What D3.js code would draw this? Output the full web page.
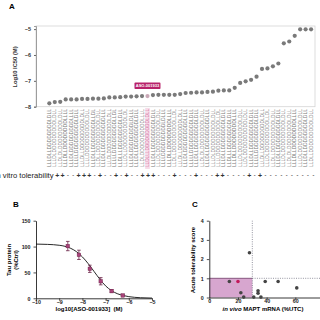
<!DOCTYPE html>
<html><head><meta charset="utf-8">
<script src="https://cdn.jsdelivr.net/npm/d3@7"></script>
<style>body{margin:0;background:#fff}svg{display:block;font-family:"Liberation Sans",Arial,sans-serif}</style>
</head><body><svg id="c" width="320" height="320"></svg>
<script>
// ---------- Panel A data ----------
const asoIC50 = [-7.87,-7.82,-7.81,-7.72,-7.72,-7.72,-7.70,-7.70,-7.69,-7.69,-7.68,-7.64,-7.64,-7.63,-7.61,-7.61,-7.60,-7.59,-7.59,
  -7.55,-7.54,-7.54,-7.54,-7.54,-7.51,-7.47,-7.46,-7.45,-7.45,-7.43,-7.42,-7.38,-7.37,-7.37,-7.27,-7.08,-7.02,-6.96,-6.84,
  -6.54,-6.52,-6.44,-6.33,-5.55,-5.48,-5.26,-5.01,-5.01,-5.01];
const asoChem = [
 "LLLDLLDDDDDDDDLDLL","LLLDLDDDDDDDDDLDLL","LLDLDLDDDDDDDDLDLL","LLLDLLDDDDDDDDLLLL","LLLDLDDDDDDDDDLLLL",
 "LLLLLDDDDDDDDDLDLL","LLLDLLDDDDDDDDDLDLL","LLLLDDDDDDDDDDLDLL","LLLDLLDDDDDDDDLLDL","LLDLLDDDDDDDDDLDLL",
 "LLLDLLDDDDDDDDDLLL","LLLDLDDDDDDDDDDLDLL","LLLLLDDDDDDDDDLLDL","LLDLLLDDDDDDDDLDLL","LLLDLLDDDDDDDDDLDL",
 "LLLDLDDDDDDDDLDLLL","LLLDLLDDDDDDDDLDLL","LLDLDDDDDDDDDDLLLL","LLDLLLDDDDDDDDDLDLL","LLLDLLDDDDDDDDLDLL",
 "LLLDLDDDDDDDDDLDLL","LLLLDDDDDDDDDLDLLL","LLLDLLDDDDDDDDLLLL","LLDLLDDDDDDDDDLLDL","LLLDLLDDDDDDDDDLDLL",
 "LLLDLDDDDDDDDDLLLL","LLLLLDDDDDDDDDLDLL","LLLDLLDDDDDDDDLDLL","LLDLDLDDDDDDDDLDLL","LLLDLLDDDDDDDDDLLL",
 "LLLDLDDDDDDDDDLDLL","LLLLDDDDDDDDDDLLDL","LLLDLLDDDDDDDDLDLL","LLDLLLDDDDDDDDLDLL","LLLDLLDDDDDDDDLLLL",
 "LLLDLDDDDDDDDDLDLL","LLDLDDDDDDDDDDLDLL","LLLDLLDDDDDDDDLDLL","LLLLLDDDDDDDDDLDLL","LLLDLLDDDDDDDDDLDLL",
 "LLLDLDDDDDDDDDLLDL","LLDLLDDDDDDDDDLDLL","LLLDLLDDDDDDDDLDLL","LLLDLDDDDDDDDDLDLL","LLDLDLDDDDDDDDLDLL",
 "LLLDLLDDDDDDDDLLLL","LLLDLDDDDDDDDDLDLL","LLLDLLDDDDDDDDLDLL","LLDLLDDDDDDDDDLDLL"];
const tolerability = ["+","+","-","-","+","+","+","-","+","-","-","+","-","+","-","-","+","+","+","-","-",
 "-","+","-","-","-","+","-","-","-","+","+","-","-","-","-","+","-","+","-","-","-","-","-","-","-","-","-","-"];
const highlightIndex = 18;
const highlightLabel = "ASO-001933";
const aTicks = [-5,-6,-7,-8];

// ---------- Panel B data ----------
const doseLog = [-8.63,-8.15,-7.68,-7.21,-6.74,-6.26];
const tauMean = [101,84,57,33,14,5.5];
const tauErr  = [9,9,7,7,3,2];
const fitX = [-10,-9.5,-9,-8.75,-8.5,-8.25,-8,-7.75,-7.5,-7.25,-7,-6.75,-6.5,-6.25,-6,-5.5,-5];
const fitY = [104.8,104.2,102.5,100.5,96.5,90,80,67,52,37,24,15,9,5.5,3.2,1.1,0.4];
const bXTicks = [-10,-9,-8,-7,-6,-5];
const bYTicks = [0,50,100,150];

// ---------- Panel C data ----------
const mrna  = [14,20,22,24,28,31,34,34,36,39,48,61];
const score = [0.83,0.83,0.25,0.02,2.33,0.02,0.35,0.22,0.02,0.83,0.83,0.5];
const cHighlight = [false,true,false,false,false,false,false,false,false,false,false,false];
const cXTicks = [0,20,40,60];
const cYTicks = [0,1,2,3,4];
const mrnaCut = 30, scoreCut = 1;

const svg = d3.select("#c");
const bold = "bold";

// ===== Panel A =====
svg.append("text").attr("x",9).attr("y",9).attr("font-size",8).attr("font-weight",bold).text("A");
const ax = d3.scaleBand().domain(d3.range(asoIC50.length)).range([46.6,313.8]).paddingInner(0);
const ay = d3.scaleLinear().domain([-8,-4.88]).range([106.7,26]);
const gA = svg.append("g");
gA.append("rect").attr("x",36).attr("y",26).attr("width",279).attr("height",80.7)
  .attr("fill","none").attr("stroke","#d4d4d4").attr("stroke-width",0.8);
const aAxis = gA.append("g").attr("transform","translate(36,0)")
  .call(d3.axisLeft(ay).tickValues(aTicks).tickSize(2).tickFormat(d3.format("d")));
aAxis.select(".domain").attr("stroke","#888").attr("stroke-width",0.8);
aAxis.selectAll(".tick line").attr("stroke","#666");
aAxis.selectAll("text").attr("font-size",5.5).attr("font-weight",bold).attr("fill","#333").attr("font-family","Liberation Sans");
gA.append("text").attr("transform","translate(17,67) rotate(-90)").attr("text-anchor","middle")
  .attr("font-size",5.8).attr("font-weight",bold).attr("fill","#333").text("Log10 IC50 (M)");
// highlight band
gA.append("rect").attr("x",ax(highlightIndex)+ax.bandwidth()/2-2.3).attr("y",108).attr("width",4.6).attr("height",61)
  .attr("fill","#f6dbe8");
gA.selectAll("text.lab").data(asoChem).join("text").attr("class","lab")
  .attr("transform",(d,i)=>`translate(${ax(i)+ax.bandwidth()/2+1.6},109) rotate(-90)`)
  .attr("text-anchor","end").attr("font-size",4.6).attr("fill",(d,i)=>i===highlightIndex?"#d36fa0":"#777")
  .attr("textLength",58).attr("lengthAdjust","spacingAndGlyphs").text(d=>d);
gA.selectAll("circle.pt").data(asoIC50).join("circle").attr("class","pt")
  .attr("cx",(d,i)=>ax(i)+ax.bandwidth()/2).attr("cy",d=>ay(d)).attr("r",2.1)
  .attr("fill",(d,i)=>i===highlightIndex?"#c9a8b6":"#7a7a7a");
const hx = ax(highlightIndex)+ax.bandwidth()/2, hy = ay(asoIC50[highlightIndex]);
gA.append("rect").attr("x",hx-13).attr("y",hy-13.5).attr("width",26).attr("height",6.5).attr("rx",0.8)
  .attr("fill","#b8226a");
gA.append("text").attr("x",hx).attr("y",hy-8.6).attr("text-anchor","middle").attr("font-size",4).attr("font-weight",bold)
  .attr("fill","#fff").text(highlightLabel);
// tolerability row
const tx = d3.scaleBand().domain(d3.range(tolerability.length)).range([54.6,316]);
gA.append("text").attr("x",53.5).attr("y",177.5).attr("text-anchor","end").attr("font-size",7.6).attr("fill","#222")
  .text("In vitro tolerability");
gA.selectAll("text.tol").data(tolerability).join("text").attr("class","tol")
  .attr("x",(d,i)=>tx(i)+tx.bandwidth()/2).attr("y",d=>d==="+"?177.6:176.6).attr("text-anchor","middle")
  .attr("font-size",d=>d==="+"?7:5.5).attr("font-weight",bold).attr("fill",d=>d==="+"?"#333":"#555").text(d=>d);

// ===== Panel B =====
svg.append("text").attr("x",13).attr("y",207).attr("font-size",8).attr("font-weight",bold).text("B");
const bx = d3.scaleLinear().domain([-10,-5]).range([36,152]);
const by = d3.scaleLinear().domain([0,150]).range([298.3,220.7]);
const gB = svg.append("g");
const bxAxis = gB.append("g").attr("transform","translate(0,298.3)")
  .call(d3.axisBottom(bx).tickValues(bXTicks).tickSize(2.5).tickSizeOuter(0).tickFormat(d3.format("d")));
const byAxis = gB.append("g").attr("transform","translate(36,0)")
  .call(d3.axisLeft(by).tickValues(bYTicks).tickSize(2.5).tickSizeOuter(0));
[bxAxis,byAxis].forEach(a=>{a.select(".domain").attr("stroke","#222").attr("stroke-width",0.9);
  a.selectAll(".tick line").attr("stroke","#222").attr("stroke-width",0.8);
  a.selectAll("text").attr("font-size",5.3).attr("font-weight",bold).attr("fill","#222").attr("font-family","Liberation Sans");});
bxAxis.selectAll("text").attr("y",5.8).attr("dy","0");
gB.append("text").attr("transform","translate(10.5,260) rotate(-90)").attr("text-anchor","middle")
  .attr("font-size",6).attr("font-weight",bold).text("Tau protein");
gB.append("text").attr("transform","translate(18,260) rotate(-90)").attr("text-anchor","middle")
  .attr("font-size",6).attr("font-weight",bold).text("(%Ctrl)");
gB.append("text").attr("x",89).attr("y",311).attr("text-anchor","middle").attr("font-size",6).attr("font-weight",bold)
  .attr("xml:space","preserve").text("log10[ASO-001933]  (M)");
const fit = fitX.map((x,i)=>[x,fitY[i]]);
gB.append("path").datum(fit).attr("fill","none").attr("stroke","#111").attr("stroke-width",0.9)
  .attr("d",d3.line().x(d=>bx(d[0])).y(d=>by(d[1])).curve(d3.curveMonotoneX));
const bPts = doseLog.map((x,i)=>({x,y:tauMean[i],e:tauErr[i]}));
const eb = gB.selectAll("g.eb").data(bPts).join("g").attr("class","eb");
eb.append("line").attr("x1",d=>bx(d.x)).attr("x2",d=>bx(d.x)).attr("y1",d=>by(d.y-d.e)).attr("y2",d=>by(d.y+d.e))
  .attr("stroke","#6b2348").attr("stroke-width",0.8);
eb.append("line").attr("x1",d=>bx(d.x)-1.8).attr("x2",d=>bx(d.x)+1.8).attr("y1",d=>by(d.y+d.e)).attr("y2",d=>by(d.y+d.e))
  .attr("stroke","#6b2348").attr("stroke-width",0.8);
eb.append("line").attr("x1",d=>bx(d.x)-1.8).attr("x2",d=>bx(d.x)+1.8).attr("y1",d=>by(d.y-d.e)).attr("y2",d=>by(d.y-d.e))
  .attr("stroke","#6b2348").attr("stroke-width",0.8);
eb.append("rect").attr("x",d=>bx(d.x)-1.8).attr("y",d=>by(d.y)-1.8).attr("width",3.6).attr("height",3.6)
  .attr("fill","#a8437a").attr("stroke","#6b2348").attr("stroke-width",0.4);

// ===== Panel C =====
svg.append("text").attr("x",192).attr("y",207).attr("font-size",8).attr("font-weight",bold).text("C");
const cx = d3.scaleLinear().domain([0,80]).range([209.3,324]);
const cy = d3.scaleLinear().domain([0,4]).range([297.5,220.7]);
const gC = svg.append("g");
gC.append("rect").attr("x",cx(0)).attr("y",cy(scoreCut)).attr("width",cx(mrnaCut)-cx(0)).attr("height",cy(0)-cy(scoreCut))
  .attr("fill","#d7a6cf");
gC.append("line").attr("x1",cx(0)).attr("x2",cx(mrnaCut)).attr("y1",cy(scoreCut)).attr("y2",cy(scoreCut))
  .attr("stroke","#6d3a66").attr("stroke-width",0.8);
gC.append("line").attr("x1",cx(mrnaCut)).attr("x2",cx(80)).attr("y1",cy(scoreCut)).attr("y2",cy(scoreCut))
  .attr("stroke","#667").attr("stroke-width",0.7).attr("stroke-dasharray","1,1.3");
gC.append("line").attr("x1",cx(mrnaCut)).attr("x2",cx(mrnaCut)).attr("y1",cy(0)).attr("y2",cy(4))
  .attr("stroke","#667").attr("stroke-width",0.7).attr("stroke-dasharray","1,1.3");
const cxAxis = gC.append("g").attr("transform","translate(0,297.5)")
  .call(d3.axisBottom(cx).tickValues(cXTicks).tickSize(2.5).tickSizeOuter(0).tickFormat(d3.format("d")));
const cyAxis = gC.append("g").attr("transform","translate(209.3,0)")
  .call(d3.axisLeft(cy).tickValues(cYTicks).tickSize(2.5).tickSizeOuter(0).tickFormat(d3.format("d")));
[cxAxis,cyAxis].forEach(a=>{a.select(".domain").attr("stroke","#222").attr("stroke-width",0.9);
  a.selectAll(".tick line").attr("stroke","#222").attr("stroke-width",0.8);
  a.selectAll("text").attr("font-size",5.3).attr("font-weight",bold).attr("fill","#222").attr("font-family","Liberation Sans");});
cxAxis.selectAll("text").attr("y",5.8).attr("dy","0");
gC.append("text").attr("transform","translate(195,260) rotate(-90)").attr("text-anchor","middle")
  .attr("font-size",6).attr("font-weight",bold).text("Acute tolerability score");
const xl = gC.append("text").attr("x",263).attr("y",311).attr("text-anchor","middle").attr("font-size",6).attr("font-weight",bold);
xl.append("tspan").attr("font-style","italic").text("in vivo");
xl.append("tspan").text(" MAPT mRNA (%UTC)");
gC.selectAll("circle.cp").data(mrna.map((m,i)=>({m,s:score[i],h:cHighlight[i]}))).join("circle").attr("class","cp")
  .attr("cx",d=>cx(d.m)).attr("cy",d=>cy(d.s)).attr("r",1.8)
  .attr("fill",d=>d.h?"#c2185b":"#444");
</script></body></html>
